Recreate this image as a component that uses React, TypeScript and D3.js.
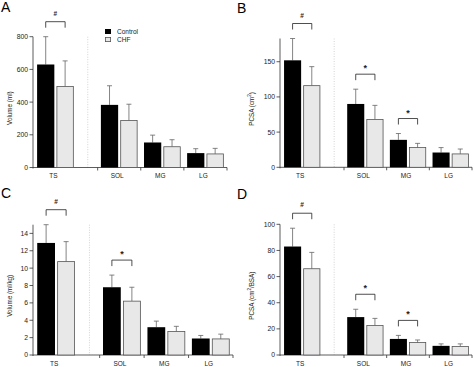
import * as d3 from "d3";
import React from "react";

const muscles = ["TS", "SOL", "MG", "LG"];

// Panel A: volume (ml)
const volControl = [630, 383, 153, 88];
const volControlErr = [170, 117, 45, 27];
const volCHF = [495, 287, 127, 83];
const volCHFErr = [157, 100, 43, 34];
const volSig = ["#", "", "", ""];

// Panel B: PCSA (cm2)
const pcsaControl = [152, 90, 39, 21];
const pcsaControlErr = [31, 21, 9, 7];
const pcsaCHF = [116, 68, 28, 19];
const pcsaCHFErr = [27, 20, 6, 7];
const pcsaSig = ["#", "*", "*", ""];

// Panel C: volume (ml/kg)
const volKgControl = [12.9, 7.8, 3.2, 1.9];
const volKgControlErr = [2.1, 1.4, 0.7, 0.35];
const volKgCHF = [10.75, 6.2, 2.7, 1.85];
const volKgCHFErr = [2.3, 1.6, 0.6, 0.55];
const volKgSig = ["#", "*", "", ""];

// Panel D: PCSA (cm2/BSA)
const pcsaBsaControl = [83, 29, 12.3, 7];
const pcsaBsaControlErr = [14, 6, 2.7, 1.5];
const pcsaBsaCHF = [66, 22.5, 9.5, 6.5];
const pcsaBsaCHFErr = [12.5, 5.5, 2, 2];
const pcsaBsaSig = ["#", "*", "*", ""];

const ticksA = [0, 200, 400, 600, 800];
const ticksB = [0, 50, 100, 150];
const ticksC = [0, 2, 4, 6, 8, 10, 12, 14];
const ticksD = [0, 20, 40, 60, 80, 100];

const FONT = "'Liberation Sans', Arial, sans-serif";

type PanelProps = {
  letter: string;
  letterX: number;
  letterY: number;
  x0: number;
  x1: number;
  yBase: number;
  yTop: number;
  yMax: number;
  ticks: number[];
  title: React.ReactNode;
  titleX: number;
  control: number[];
  controlErr: number[];
  chf: number[];
  chfErr: number[];
  sig: string[];
  legend?: boolean;
};

function Panel(p: PanelProps) {
  const u = d3.scaleLinear().domain([0, 4.5]).range([p.x0, p.x1]);
  const y = d3.scaleLinear().domain([0, p.yMax]).range([p.yBase, p.yTop]);
  const band = u(1) - u(0);
  const bw = band * 0.4;
  const gap = band * 0.05;
  const center = (i: number) => u(i === 0 ? 0.52 : i + 1);
  const titleY = (p.yBase + p.yTop) / 2 + 6;

  return (
    <g>
      <text x={p.letterX} y={p.letterY} fontSize={14} fontFamily={FONT}>
        {p.letter}
      </text>
      {/* dotted separator */}
      <line
        x1={u(1.27)}
        x2={u(1.27)}
        y1={p.yTop}
        y2={p.yBase}
        stroke="#c8c8c8"
        strokeWidth={0.8}
        strokeDasharray="1,1.5"
      />
      {/* y axis */}
      <line x1={p.x0} x2={p.x0} y1={p.yTop} y2={p.yBase + 1} stroke="#333" strokeWidth={0.8} />
      {p.ticks.map((t) => (
        <g key={t}>
          <line x1={p.x0 - 3.5} x2={p.x0} y1={y(t)} y2={y(t)} stroke="#333" strokeWidth={0.8} />
          <text
            x={p.x0 - 5}
            y={y(t) + 2.4}
            fontSize={6.8}
            textAnchor="end"
            fontFamily={FONT}
            fill="#222"
          >
            {t}
          </text>
        </g>
      ))}
      <text
        transform={`translate(${p.titleX},${titleY}) rotate(-90)`}
        fontSize={6.3}
        textAnchor="middle"
        fontFamily={FONT}
        fill="#222"
      >
        {p.title}
      </text>
      {/* x axis */}
      <line x1={p.x0} x2={p.x1} y1={p.yBase} y2={p.yBase} stroke="#333" strokeWidth={0.8} />
      {[1.5, 2.5, 3.5, 4.5].map((t) => (
        <line key={t} x1={u(t)} x2={u(t)} y1={p.yBase} y2={p.yBase + 3} stroke="#333" strokeWidth={0.8} />
      ))}
      {muscles.map((m, i) => (
        <text
          key={m}
          x={center(i) - 2}
          y={p.yBase + 10.5}
          fontSize={6.5}
          textAnchor="middle"
          fontFamily={FONT}
          fill="#222"
        >
          {m}
        </text>
      ))}
      {/* bars */}
      {muscles.map((m, i) => {
        const cx = center(i);
        const xc = cx - gap / 2 - bw;
        const xh = cx + gap / 2;
        const topC = y(p.control[i] + p.controlErr[i]);
        const topH = y(p.chf[i] + p.chfErr[i]);
        const bracketY = Math.min(topC, topH) - 15;
        return (
          <g key={m}>
            <line x1={xc + bw / 2} x2={xc + bw / 2} y1={y(p.control[i])} y2={topC} stroke="#666" strokeWidth={0.8} />
            <line x1={xc + bw / 2 - 2.5} x2={xc + bw / 2 + 2.5} y1={topC} y2={topC} stroke="#666" strokeWidth={0.8} />
            <line x1={xh + bw / 2} x2={xh + bw / 2} y1={y(p.chf[i])} y2={topH} stroke="#666" strokeWidth={0.8} />
            <line x1={xh + bw / 2 - 2.5} x2={xh + bw / 2 + 2.5} y1={topH} y2={topH} stroke="#666" strokeWidth={0.8} />
            <rect x={xc} y={y(p.control[i])} width={bw} height={p.yBase - y(p.control[i])} fill="#000" />
            <rect
              x={xh + 0.4}
              y={y(p.chf[i])}
              width={bw - 0.8}
              height={p.yBase - y(p.chf[i])}
              fill="#e8e8e8"
              stroke="#555"
              strokeWidth={0.8}
            />
            {p.sig[i] && (
              <g>
                <path
                  d={`M${xc + bw / 2},${bracketY + 6}V${bracketY}H${xh + bw / 2}V${bracketY + 6}`}
                  fill="none"
                  stroke="#222"
                  strokeWidth={0.8}
                />
                <text
                  x={cx}
                  y={p.sig[i] === "*" ? bracketY - 3 : bracketY - 6}
                  fontSize={p.sig[i] === "*" ? 9 : 6.5}
                  textAnchor="middle"
                  fontFamily={FONT}
                  fontWeight="bold"
                  fill="#222"
                >
                  {p.sig[i]}
                </text>
              </g>
            )}
          </g>
        );
      })}
      {p.legend && (
        <g fontFamily={FONT} fontSize={6.5} fill="#222">
          <rect x={105} y={29} width={6} height={5} fill="#000" />
          <text x={117} y={34.3}>Control</text>
          <rect x={105.4} y={37.4} width={5.2} height={4.2} fill="#e8e8e8" stroke="#555" strokeWidth={0.8} />
          <text x={117} y={42.3}>CHF</text>
        </g>
      )}
    </g>
  );
}

export default function App() {
  return (
    <svg
      width={474}
      height={367}
      style={{ position: "absolute", left: 0, top: 0, background: "#fff" }}
    >
      <rect width={474} height={367} fill="#fff" />
      <Panel
        letter="A"
        letterX={1}
        letterY={12}
        x0={33}
        x1={227}
        yBase={167.5}
        yTop={36.7}
        yMax={800}
        ticks={ticksA}
        title="Volume (ml)"
        titleX={12}
        control={volControl}
        controlErr={volControlErr}
        chf={volCHF}
        chfErr={volCHFErr}
        sig={volSig}
        legend
      />
      <Panel
        letter="B"
        letterX={237}
        letterY={13}
        x0={280}
        x1={472}
        yBase={167.3}
        yTop={38.5}
        yMax={183}
        ticks={ticksB}
        title={
          <>
            PCSA (cm<tspan dy={-3} fontSize={4.5}>2</tspan>
            <tspan dy={3}>)</tspan>
          </>
        }
        titleX={254}
        control={pcsaControl}
        controlErr={pcsaControlErr}
        chf={pcsaCHF}
        chfErr={pcsaCHFErr}
        sig={pcsaSig}
      />
      <Panel
        letter="C"
        letterX={1}
        letterY={198}
        x0={33}
        x1={233}
        yBase={355}
        yTop={224.7}
        yMax={15}
        ticks={ticksC}
        title="Volume (ml/kg)"
        titleX={12}
        control={volKgControl}
        controlErr={volKgControlErr}
        chf={volKgCHF}
        chfErr={volKgCHFErr}
        sig={volKgSig}
      />
      <Panel
        letter="D"
        letterX={237}
        letterY={199}
        x0={280}
        x1={472}
        yBase={355}
        yTop={224.3}
        yMax={100}
        ticks={ticksD}
        title={
          <>
            PCSA (cm<tspan dy={-3} fontSize={4.5}>2</tspan>
            <tspan dy={3}>/BSA)</tspan>
          </>
        }
        titleX={254}
        control={pcsaBsaControl}
        controlErr={pcsaBsaControlErr}
        chf={pcsaBsaCHF}
        chfErr={pcsaBsaCHFErr}
        sig={pcsaBsaSig}
      />
    </svg>
  );
}
